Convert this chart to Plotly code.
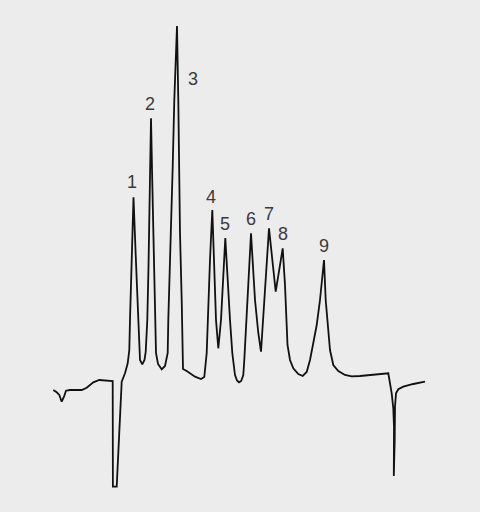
import plotly.graph_objects as go

# Retention time (arbitrary units) and detector signal (arbitrary units)
time = [53.3, 56.7, 59.3, 61.7, 64.0, 66.0, 70.0, 81.7, 86.7, 93.3, 99.3, 112.7,
        112.9, 116.7, 121.7, 125.0, 127.7, 129.3, 130.0, 131.7, 133.5, 135.5, 137.3,
        138.3, 139.0, 140.0, 142.3, 144.5, 145.7, 147.3, 148.5, 150.0, 151.0, 152.3,
        153.8, 155.0, 156.0, 158.0, 161.7, 165.0, 167.7, 168.3, 170.0, 172.7, 174.3,
        177.0, 178.3, 180.0, 181.7, 182.5, 183.0, 186.7, 195.0, 201.0, 204.3, 206.7,
        207.7, 210.0, 212.3, 214.5, 216.0, 218.3, 221.0, 225.3, 228.3, 230.0, 232.3,
        235.0, 237.0, 239.0, 241.2, 243.3, 244.3, 246.7, 251.0, 255.0, 258.3, 261.0,
        269.0, 275.7, 282.7, 285.0, 286.7, 287.5, 290.0, 293.3, 298.3, 302.7, 306.7,
        310.0, 313.3, 316.7, 320.0, 324.0, 325.7, 330.0, 333.3, 338.3, 345.0, 351.7,
        360.0, 388.3, 391.7, 393.3, 394.0, 393.8, 394.7, 395.0, 396.0, 398.3, 403.3,
        413.3, 425.0]
signal = [122.0, 119.7, 117.0, 110.3, 115.3, 121.3, 122.0, 122.0, 124.3, 129.7, 132.0, 131.0,
          25.3, 25.3, 130.3, 138.7, 148.7, 162.0, 192.0, 262.0, 314.7, 262.0, 212.0,
          192.0, 160.0, 152.0, 147.7, 152.0, 160.0, 192.0, 245.3, 329.0, 393.7, 329.0,
          245.3, 192.0, 159.0, 148.0, 142.7, 146.0, 159.0, 192.0, 245.3, 345.3, 412.0,
          486.0, 412.0, 279.0, 212.0, 172.0, 143.0, 141.0, 135.3, 133.0, 135.0, 159.0,
          192.0, 252.0, 302.0, 242.0, 192.0, 163.7, 192.0, 274.0, 212.0, 192.0, 159.0,
          137.0, 131.5, 129.7, 131.0, 137.0, 152.0, 195.3, 278.7, 212.0, 179.0, 160.3,
          283.7, 220.3, 263.7, 227.0, 192.0, 167.0, 152.0, 143.7, 138.0, 136.0, 140.0,
          152.0, 169.0, 187.0, 212.0, 252.0, 212.0, 162.0, 147.0, 141.0, 137.0, 135.7,
          136.0, 138.7, 118.7, 103.7, 85.3, 36.0, 72.0, 105.3, 118.7, 122.7, 125.3,
          128.0, 130.3]

peak_labels = ["1", "2", "3", "4", "5", "6", "7", "8", "9"]
peak_times = [133.5, 151.0, 177.0, 212.3, 225.3, 251.0, 269.0, 282.7, 324.0]

fig = go.Figure()
fig.add_trace(go.Scatter(x=time, y=signal, mode="lines",
                         line=dict(color="#111111", width=1.8),
                         hoverinfo="skip", showlegend=False))

for lab, t in zip(peak_labels, peak_times):
    s = signal[time.index(t)]
    if lab == "3":
        xs, ys = 15.7, -53
    elif lab == "1":
        xs, ys = -2, 15
    elif lab == "4":
        xs, ys = -1.6, 13
    elif lab == "2":
        xs, ys = -1, 14
    else:
        xs, ys = 0, 14.5
    fig.add_annotation(x=t, y=s, text=lab, showarrow=False, xshift=xs, yshift=ys,
                       font=dict(family="Liberation Sans, Arial, sans-serif",
                                 size=18, color="#3a3a3a"))

fig.update_layout(
    width=480, height=512,
    margin=dict(l=0, r=0, t=0, b=0),
    paper_bgcolor="#ececec", plot_bgcolor="#ececec",
    xaxis=dict(range=[0, 480], visible=False, fixedrange=True),
    yaxis=dict(range=[0, 512], visible=False, fixedrange=True),
)
fig.write_html("out.html", config={"displayModeBar": False},
               post_script="document.body.style.margin='0';"
                           "document.body.style.background='#ececec';")
